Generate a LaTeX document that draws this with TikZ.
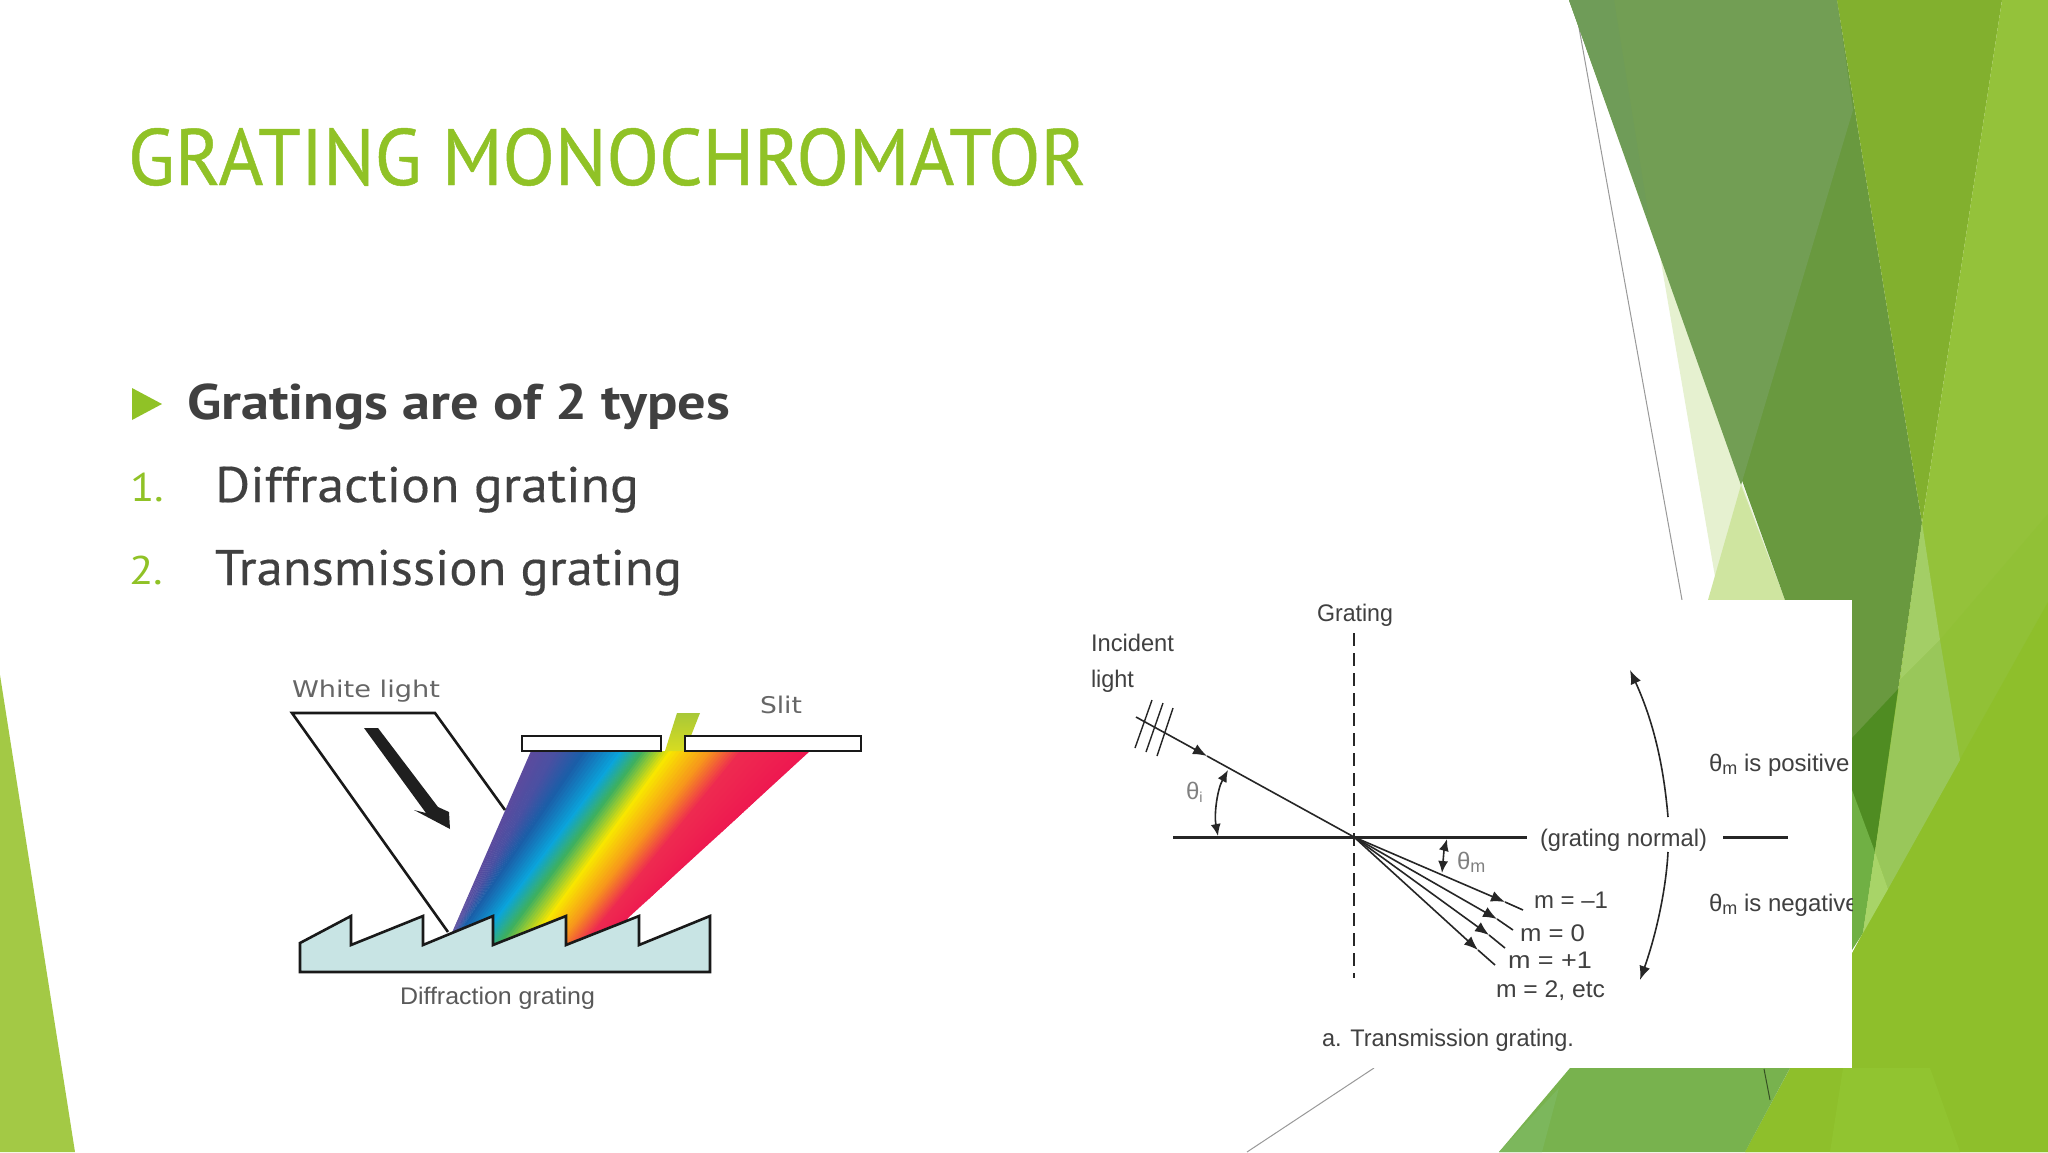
\documentclass[tikz,border=0pt]{standalone}
\usepackage{fontspec}
\usepackage{graphicx}
\setmainfont[Ligatures=NoCommon]{PT Sans}
\newfontfamily\titlefont[Ligatures=NoCommon,FakeBold=0.6]{PT Sans}
\newfontfamily\bodyfont[Ligatures=NoCommon,FakeBold=0.3]{PT Sans}
\newfontfamily\lab{Liberation Sans}
\newfontfamily\labw{DejaVu Sans}
\usetikzlibrary{arrows.meta}
\newsavebox\fitbox
\newcommand\fitx[2]{\sbox\fitbox{#2}\pgfmathsetmacro\fitr{#1/\wd\fitbox}\scalebox{\fitr}[1]{\usebox\fitbox}}
\newcommand\thm[1]{θ\raisebox{-0.3ex}{\scalebox{0.75}{#1}}}
\definecolor{titlegreen}{HTML}{90C226}
\definecolor{bodygray}{HTML}{404040}
\definecolor{labgray}{HTML}{404040}
\definecolor{cPu}{HTML}{5C4B9E}
\definecolor{cPv}{HTML}{4A50A2}
\definecolor{cBl}{HTML}{1B5EA8}
\definecolor{cCy}{HTML}{0AA5DC}
\definecolor{cGr}{HTML}{3DB060}
\definecolor{cYe}{HTML}{F8E600}
\definecolor{cOr}{HTML}{F7941D}
\definecolor{cRd}{HTML}{EE2A50}
\definecolor{cRe}{HTML}{EE1650}
\definecolor{slitA}{HTML}{A8C838}
\definecolor{slitB}{HTML}{D8DC20}
\definecolor{gratefill}{HTML}{C8E4E4}
\definecolor{g1}{HTML}{A3C945}\definecolor{g2}{HTML}{E6F1D0}\definecolor{g3}{HTML}{CFE5A0}
\definecolor{g4}{HTML}{729E54}\definecolor{g5}{HTML}{69993F}\definecolor{g6}{HTML}{6F9C58}
\definecolor{g7}{HTML}{4F8C22}\definecolor{g8}{HTML}{70B044}\definecolor{g9}{HTML}{82B02E}
\definecolor{g10}{HTML}{94C23A}\definecolor{g11}{HTML}{8EBF2B}\definecolor{g12}{HTML}{A3CE66}
\definecolor{g13}{HTML}{99C75A}\definecolor{g14}{HTML}{A8D468}\definecolor{g15}{HTML}{78B24E}
\definecolor{g16}{HTML}{7CB75C}\definecolor{g17}{HTML}{91C136}\definecolor{g18}{HTML}{91C430}
\tikzset{
  txt/.style={anchor=base west,inner sep=0pt,outer sep=0pt},
  lbl/.style={txt,text=labgray,font=\lab\fontsize{24}{24}\selectfont},
  ray/.style={draw=black!85,line width=1.6pt},
  curve/.style={draw=black!85,line width=1.6pt},
  arrowtip/.style={-{Latex[length=14pt,width=11pt]}},
  arrowboth/.style={{Latex[length=12pt,width=10pt]}-{Latex[length=12pt,width=10pt]}},
  outline/.style={draw=black!90,line width=2.6pt,line join=miter}
}
\begin{document}
\begin{tikzpicture}[x=1pt,y=-1pt]
\useasboundingbox (0,0) rectangle (2048,1152);
\fill[white] (0,0) rectangle (2048,1152);
% left wedge
\fill[g1] (0,675) -- (75,1152) -- (0,1152) -- cycle;
% facets
\draw[black!40,line width=1pt] (1574,0) -- (1682,600);
\fill[g2] (1659,250) -- (1719,600) -- (1785,600) -- (1741,481) -- cycle;
\fill[g3] (1741,485) -- (1785,600) -- (1708,600) -- cycle;
\fill[g5] (1569,0) -- (1837,0) -- (1922,523) -- (1875,852) -- (1852,900) -- (1785,600) -- cycle;
\fill[g4] (1569,0) -- (1837,0) -- (1853,110) -- (1741,485) -- cycle;
\fill[g6] (1569,0) -- (1614,0) -- (1650,225) -- cycle;
\fill[g7] (1852,738) -- (1900,687) -- (1875,852) -- (1852,830) -- cycle;
\fill[g8] (1852,790) -- (1875,852) -- (1863,933) -- (1852,950) -- cycle;
\fill[g9] (1837,0) -- (2002,0) -- (1922,523) -- cycle;
\fill[g10] (2002,0) -- (2048,0) -- (2048,1152) -- (1745,1152) -- (1863,933) -- (1875,852) -- (1922,523) -- cycle;
\fill[g17] (2048,514) -- (2048,602) -- (1960,760) -- (1940,640) -- cycle;
\fill[g11] (2048,602) -- (2048,1152) -- (1745,1152) -- (1863,933) -- cycle;
\fill[g18] (1843,1068) -- (1830,1152) -- (1960,1152) -- (1930,1068) -- cycle;
\fill[g12] (1922,523) -- (1940,640) -- (1900,680) -- cycle;
\fill[g13] (1900,680) -- (1940,640) -- (1960,760) -- (1888,889) -- (1875,852) -- cycle;
\fill[g14] (1875,852) -- (1888,889) -- (1863,933) -- cycle;
\fill[g15] (1570,1068) -- (1790,1068) -- (1745,1152) -- (1499,1152) -- cycle;
\fill[g16] (1499,1152) -- (1559,1088) -- (1542,1152) -- cycle;
\draw[black!40,line width=1pt] (1247,1152) -- (1374,1068);
\draw[black!55!g15,line width=1pt] (1764,1069) -- (1770,1100);
% title and list
\node[txt,text=titlegreen,font=\titlefont\fontsize{80}{80}\selectfont] (title) at (128,185) {\fitx{958}{GRATING MONOCHROMATOR}};
\fill[titlegreen] (132,388) -- (162,404) -- (132,420) -- cycle;
\node[txt,text=bodygray,font=\bfseries\fontsize{50}{50}\selectfont] (head) at (187,419.5) {\fitx{543}{Gratings are of 2 types}};
\node[txt,text=titlegreen,font=\fontsize{40}{40}\selectfont] (n1) at (130,501) {\fitx{34}{1.}};
\node[txt,text=bodygray,font=\bodyfont\fontsize{50}{50}\selectfont] (i1) at (215,502) {\fitx{424}{Diffraction grating}};
\node[txt,text=titlegreen,font=\fontsize{40}{40}\selectfont] (n2) at (129,584) {\fitx{34}{2.}};
\node[txt,text=bodygray,font=\bodyfont\fontsize{50}{50}\selectfont] (i2) at (215,585) {\fitx{467}{Transmission grating}};
% left figure: rainbow
\begin{scope}
\clip (531,751) -- (451,935) -- (451,955) -- (615,955) -- (628,918) -- (810,751) -- cycle;
\foreach \ta/\ba/\ca [remember=\ta as \tp (initially 531),remember=\ba as \bp (initially 451),remember=\ca as \cp (initially cPu)] in
 {555/453/cPv,582/457/cBl,620/483/cCy,641/505/cGr,669/535/cYe,709/565/cOr,740/590/cRd,812/618/cRe}{
  \foreach \i in {0,...,9}{
    \pgfmathsetmacro\pp{\i*10}
    \pgfmathsetmacro\xa{\tp+(\ta-\tp)*\i/10}
    \pgfmathsetmacro\xb{\tp+(\ta-\tp)*(\i+1.3)/10}
    \pgfmathsetmacro\xc{\bp+(\ba-\bp)*(\i+1.3)/10}
    \pgfmathsetmacro\xd{\bp+(\ba-\bp)*\i/10}
    \pgfmathsetmacro\xe{\xc+(\xc-\xb)*20/184}
    \pgfmathsetmacro\xf{\xd+(\xd-\xa)*20/184}
    \fill[color=\ca!\pp!\cp] (\xa,751) -- (\xb,751) -- (\xe,955) -- (\xf,955) -- cycle;
  }
}
\end{scope}
\shade[top color=slitA,bottom color=slitB] (677,713) -- (700,713) -- (685,751) -- (665,751) -- cycle;
% left figure: light beam
\draw[outline] (505,810) -- (435,713) -- (292,713) -- (448,932);
\fill[black!88] (364,728) -- (378,728) -- (438,807) -- (449,812) -- (450,829) -- (414,810) -- (426,813) -- cycle;
% slits
\draw[outline,fill=white] (522,736) rectangle (661,751);
\draw[outline,fill=white] (685,736) rectangle (861,751);
% grating
\draw[outline,fill=gratefill] (300,972) -- (300,943) -- (351,916) -- (351,945) -- (423,916) -- (423,945) -- (493,916) -- (493,945) -- (566,916) -- (566,945) -- (639,916) -- (639,945) -- (710,916) -- (710,972) -- cycle;
\node[txt,text=black!60,font=\labw\fontsize{23}{23}\selectfont] (wl) at (292,697) {\fitx{148}{White light}};
\node[txt,text=black!60,font=\labw\fontsize{23}{23}\selectfont] (sl) at (760,713) {\fitx{42}{Slit}};
\node[lbl,text=black!65,font=\lab\fontsize{24}{24}\selectfont] (dg) at (400,1004) {\fitx{195}{Diffraction grating}};
% right figure: white panel
\fill[white] (1073,600) rectangle (1852,1068);
\coordinate (O) at (1354,837);
\draw[black!85,line width=3pt] (1173,837) -- (1527,837);
\draw[black!85,line width=3pt] (1723,837) -- (1788,837);
\draw[black!85,line width=2.4pt,dash pattern=on 13pt off 7pt] (1354,633) -- (1354,978);
\coordinate (inc) at (1136,717);
\coordinate (inch) at (1207,756);
\draw[ray,arrowtip] (inc) -- (inch);
\draw[ray] (inch) -- (O);
\draw[black!85,line width=1.4pt] (1152,700) -- (1135,748) (1163,703) -- (1146,752) (1173,708) -- (1157,756);
\draw[curve,arrowboth] (1228,770) .. controls (1217,790) and (1214,815) .. (1218,836);
\draw[curve,arrowboth] (1447,839) .. controls (1444,850) and (1443,862) .. (1442,873);
\foreach \hx/\hy/\ex/\ey in {1505/902/1523/910,1497/919/1513/930,1489/935/1505/948,1478/950/1495/965}{
  \draw[ray,arrowtip] (O) -- (\hx,\hy);
  \draw[ray] (\hx,\hy) -- (\ex,\ey);
}
\draw[curve,arrowtip] (1668,817) .. controls (1664,770) and (1655,725) .. (1630,670);
\draw[curve,arrowtip] (1668,852) .. controls (1666,890) and (1656,935) .. (1640,980);
\node[lbl] (gr) at (1317,621) {\fitx{76}{Grating}};
\node[lbl] (inci) at (1091,651.5) {\fitx{83}{Incident}};
\node[lbl] (incl) at (1091,687) {\fitx{43}{light}};
\node[lbl,text=black!50] (ti) at (1186,799) {θ\raisebox{-0.3ex}{\scalebox{0.6}{i}}};
\node[lbl,text=black!50] (tm) at (1457,869) {\thm{m}};
\node[lbl] (gn) at (1540,846) {\fitx{167}{(grating normal)}};
\node[lbl] (m1) at (1534,908) {\fitx{74}{m = –1}};
\node[lbl] (m2) at (1520,941) {\fitx{65}{m = 0}};
\node[lbl] (m3) at (1508,968) {\fitx{84}{m = +1}};
\node[lbl] (m4) at (1496,997) {\fitx{109}{m = 2, etc}};
\node[lbl] (cap) at (1322,1046) {\fitx{252}{a. Transmission grating.}};
\node[lbl] (pos) at (1709,771) {\thm{m} is positive};
\begin{scope}
\clip (1700,880) rectangle (1852,930);
\node[lbl] (neg) at (1709,911) {\thm{m} is negative};
\end{scope}
\end{tikzpicture}
\end{document}
